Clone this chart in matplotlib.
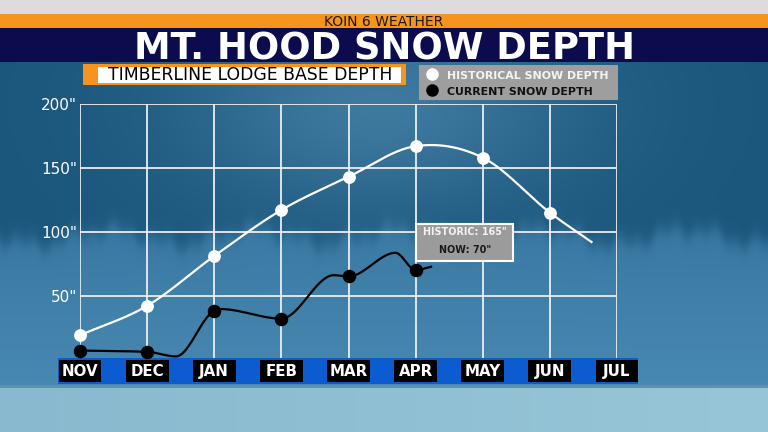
import matplotlib
matplotlib.use("Agg")
import matplotlib.pyplot as plt
import matplotlib.transforms as mtransforms
from matplotlib.patches import Rectangle
import numpy as np

# --- data (inches of snow) ---
months = ["NOV", "DEC", "JAN", "FEB", "MAR", "APR", "MAY", "JUN", "JUL"]
historical = [19, 42, 81, 117, 143, 167, 158, 115]
current = [7, 6, 38, 32, 65, 70]

# extra points (month index, inches)
hist_curve_x = [0, 1, 2, 3, 4, 5, 6, 7, 7.62]
hist_curve_y = [19, 42, 81, 117, 143, 167, 158, 115, 92]
curr_curve_x = [0, 1, 1.43, 2, 2.09, 3, 3.78, 4, 4.70, 5, 5.23]
curr_curve_y = [7, 6, 2.4, 38, 39.5, 32, 66, 65, 83.5, 70, 72.6]

y_ticks = [50, 100, 150, 200]
tooltip_historic = 165
tooltip_now = 70

station = "KOIN 6 WEATHER"
title = "MT. HOOD SNOW DEPTH"
subtitle = "TIMBERLINE LODGE BASE DEPTH"
legend_labels = ["HISTORICAL SNOW DEPTH", "CURRENT SNOW DEPTH"]


def hermite(x, y, m, xs):
    x = np.asarray(x, float)
    y = np.asarray(y, float)
    h = np.diff(x)
    i = np.clip(np.searchsorted(x, xs) - 1, 0, len(h) - 1)
    t = (xs - x[i]) / h[i]
    h00 = 2 * t**3 - 3 * t**2 + 1
    h10 = t**3 - 2 * t**2 + t
    h01 = -2 * t**3 + 3 * t**2
    h11 = t**3 - t**2
    return h00 * y[i] + h10 * h[i] * m[i] + h01 * y[i + 1] + h11 * h[i] * m[i + 1]


def cardinal(x, y, xs, tension=0.2):
    x = np.asarray(x, float)
    y = np.asarray(y, float)
    m = np.gradient(y, x)
    m[1:-1] = (y[2:] - y[:-2]) / (x[2:] - x[:-2])
    # blend the smooth tangents a little towards the straight segments
    d = np.diff(y) / np.diff(x)
    seg = np.concatenate([[d[0]], (d[:-1] + d[1:]) / 2, [d[-1]]])
    m = (1 - tension) * m + tension * seg
    return hermite(x, y, m, xs)


def pchip(x, y, xs):
    """Shape preserving cubic through the read points (Fritsch-Carlson)."""
    x = np.asarray(x, float)
    y = np.asarray(y, float)
    h = np.diff(x)
    d = np.diff(y) / h
    m = np.zeros_like(y)
    for k in range(1, len(x) - 1):
        if d[k - 1] * d[k] > 0:
            w1 = 2 * h[k] + h[k - 1]
            w2 = h[k] + 2 * h[k - 1]
            m[k] = (w1 + w2) / (w1 / d[k - 1] + w2 / d[k])
    m[0], m[-1] = d[0], d[-1]
    return hermite(x, y, m, xs)


def hexrgb(c):
    c = c.lstrip("#")
    return np.array([int(c[j:j + 2], 16) for j in (0, 2, 4)]) / 255.0


# --- background picture (pixel grid) ---
H, W = 432, 768
yy, xx = np.mgrid[0:H, 0:W].astype(float)
edge = 236 + 7 * np.sin(xx / 23.0) + 4 * np.sin(xx / 7.3 + 1.3) + 2.5 * np.sin(xx / 3.1)
t = 1 / (1 + np.exp(-(yy - edge) / 5.0))
dark = hexrgb("#1b567d")
cloud_top = hexrgb("#3a79a3")
cloud_bot = hexrgb("#4889b1")
depth = np.clip((yy - 240) / 150, 0, 1)[..., None]
cloud = cloud_top * (1 - depth) + cloud_bot * depth
img = dark * (1 - t[..., None]) + cloud * t[..., None]
glow = np.exp(-((xx - 380) ** 2 / (2 * 140**2) + (yy - 105) ** 2 / (2 * 75**2)))
img = img * (1 - 0.45 * glow[..., None]) + hexrgb("#6aa3c7") * 0.45 * glow[..., None]
img[yy < 14] = hexrgb("#dcdcdc")
img[(yy >= 14) & (yy < 28)] = hexrgb("#f7941d")
img[(yy >= 28) & (yy < 62)] = hexrgb("#0b0b4e")
img[(yy >= 385) & (yy < 388)] = hexrgb("#5b92ad")
band = (yy >= 388)
img[band] = (hexrgb("#88b9ce") * (1 - xx[band][:, None] / W) + hexrgb("#97c6d8") * (xx[band][:, None] / W))

fig = plt.figure(figsize=(7.68, 4.32), dpi=100)
bg = fig.add_axes([0, 0, 1, 1])
bg.imshow(img, extent=(0, W, H, 0), aspect="auto", interpolation="bilinear")
bg.set_xlim(0, W)
bg.set_ylim(H, 0)
bg.axis("off")

# header texts
bg.text(384, 26, station, ha="center", va="baseline", fontsize=10, color="#1a1a1a")
bg.text(384, 59, title, ha="center", va="baseline", fontsize=26.6,
        fontweight="bold", color="white")
bg.add_patch(Rectangle((83, 64), 323, 21, color="#f7941d", lw=0))
bg.add_patch(Rectangle((98, 67), 303, 16, color="white", lw=0))
bg.text(250, 80.5, subtitle, ha="center", va="baseline", fontsize=12.4, color="black")

# legend
bg.add_patch(Rectangle((419, 65), 199, 35, color="#9e9e9e", lw=0))
bg.plot([432], [74], "o", ms=8, color="white", mec="white")
bg.plot([432], [90], "o", ms=8, color="black", mec="black")
bg.text(447, 79, legend_labels[0], fontsize=7.9, fontweight="bold", color="#f4f4f4")
bg.text(447, 95, legend_labels[1], fontsize=7.9, fontweight="bold", color="#111111")

# --- chart axes ---
ax = fig.add_axes([80 / W, (H - 359.5) / H, 537 / W, 255.5 / H])
ax.patch.set_alpha(0)
ax.set_xlim(0, len(months) - 1)
ax.set_ylim(0, 200)
for s in ax.spines.values():
    s.set_visible(False)
ax.set_xticks(range(len(months)))
ax.set_xticklabels([])
ax.set_yticks(y_ticks)
ax.set_yticklabels([f'{v}"' for v in y_ticks])
ax.tick_params(length=0, pad=2, labelsize=11, labelcolor="white")
ax.grid(True, color="#e8eff4", lw=1.3)
ax.set_axisbelow(True)

# month bar
tr = mtransforms.blended_transform_factory(ax.transData, ax.transAxes)
ax.add_patch(Rectangle((-0.33, -0.096), len(months) - 1 + 0.65, 0.102,
                       transform=tr, color="#0c5bd0", lw=0, clip_on=False, zorder=3))
for i, m in enumerate(months):
    ax.add_patch(Rectangle((i - 0.32, -0.09), 0.64, 0.088, transform=tr,
                           color="black", lw=0, clip_on=False, zorder=4))
    ax.text(i, -0.047, m, transform=tr, ha="center", va="center", fontsize=10.8,
            fontweight="bold", color="white", zorder=5)

# historical
xs = np.linspace(hist_curve_x[0], hist_curve_x[-1], 400)
ax.plot(xs, cardinal(hist_curve_x, hist_curve_y, xs), color="white", lw=1.6, zorder=6)
ax.plot(range(len(historical)), historical, "o", ms=8.2, color="white", zorder=7,
        clip_on=False)

# current
xs = np.linspace(curr_curve_x[0], curr_curve_x[-1], 400)
ax.plot(xs, pchip(curr_curve_x, curr_curve_y, xs), color="black", lw=1.6, zorder=6)
ax.plot(range(len(current)), current, "o", ms=8.7, color="black", zorder=7,
        clip_on=False)

# tooltip next to the latest reading
apr = len(current) - 1
ax.add_patch(Rectangle((apr + 0.01, 77), 1.44, 29, facecolor="#9b9b9b",
                       edgecolor="white", lw=1.5, zorder=8))
ax.text(apr + 0.73, 99.5, f'HISTORIC: {tooltip_historic}"', ha="center", va="center",
        fontsize=6.9, fontweight="bold", color="#f4f4f4", zorder=9)
ax.text(apr + 0.73, 85.5, f'NOW: {tooltip_now}"', ha="center", va="center",
        fontsize=6.9, fontweight="bold", color="#1a1a1a", zorder=9)

fig.savefig("out.png", dpi=100)
